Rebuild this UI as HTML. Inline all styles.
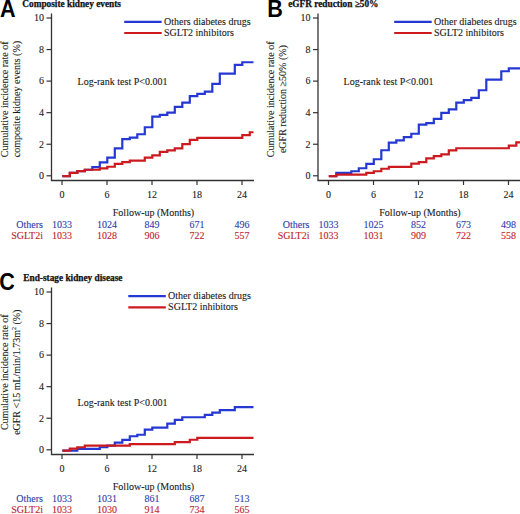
<!DOCTYPE html>
<html><head><meta charset="utf-8"><style>
html,body{margin:0;padding:0;background:#fff;width:520px;height:514px;overflow:hidden}
svg{display:block;font-family:"Liberation Serif",serif}
</style></head><body>
<svg width="520" height="514" viewBox="0 0 520 514">
<text transform="translate(-0.1,17) scale(0.92,1)" font-family="Liberation Sans" font-weight="bold" font-size="23.5" fill="#000">A</text>
<text x="22.3" y="6.6" font-weight="bold" font-size="9.3" fill="#111" stroke="#111" stroke-width="0.25">Composite kidney events</text>
<path d="M51.5 13.5 V180.5 H254" fill="none" stroke="#333333" stroke-width="1.3"/>
<path d="M46.5 175.80 H51.5" stroke="#333333" stroke-width="1.2"/>
<text x="43.90" y="179.10" text-anchor="end" font-size="10" fill="#1a1a1a" stroke="#1a1a1a" stroke-width="0.1" >0</text>
<path d="M46.5 144.24 H51.5" stroke="#333333" stroke-width="1.2"/>
<text x="43.90" y="147.54" text-anchor="end" font-size="10" fill="#1a1a1a" stroke="#1a1a1a" stroke-width="0.1" >2</text>
<path d="M46.5 112.68 H51.5" stroke="#333333" stroke-width="1.2"/>
<text x="43.90" y="115.98" text-anchor="end" font-size="10" fill="#1a1a1a" stroke="#1a1a1a" stroke-width="0.1" >4</text>
<path d="M46.5 81.12 H51.5" stroke="#333333" stroke-width="1.2"/>
<text x="43.90" y="84.42" text-anchor="end" font-size="10" fill="#1a1a1a" stroke="#1a1a1a" stroke-width="0.1" >6</text>
<path d="M46.5 49.56 H51.5" stroke="#333333" stroke-width="1.2"/>
<text x="43.90" y="52.86" text-anchor="end" font-size="10" fill="#1a1a1a" stroke="#1a1a1a" stroke-width="0.1" >8</text>
<path d="M46.5 18.00 H51.5" stroke="#333333" stroke-width="1.2"/>
<text x="43.90" y="21.30" text-anchor="end" font-size="10" fill="#1a1a1a" stroke="#1a1a1a" stroke-width="0.1" >10</text>
<path d="M62 180.5 V185" stroke="#333333" stroke-width="1.2"/>
<text x="62.00" y="197.50" text-anchor="middle" font-size="10" fill="#1a1a1a" stroke="#1a1a1a" stroke-width="0.1" >0</text>
<path d="M107 180.5 V185" stroke="#333333" stroke-width="1.2"/>
<text x="107.00" y="197.50" text-anchor="middle" font-size="10" fill="#1a1a1a" stroke="#1a1a1a" stroke-width="0.1" >6</text>
<path d="M152 180.5 V185" stroke="#333333" stroke-width="1.2"/>
<text x="152.00" y="197.50" text-anchor="middle" font-size="10" fill="#1a1a1a" stroke="#1a1a1a" stroke-width="0.1" >12</text>
<path d="M197 180.5 V185" stroke="#333333" stroke-width="1.2"/>
<text x="197.00" y="197.50" text-anchor="middle" font-size="10" fill="#1a1a1a" stroke="#1a1a1a" stroke-width="0.1" >18</text>
<path d="M242 180.5 V185" stroke="#333333" stroke-width="1.2"/>
<text x="242.00" y="197.50" text-anchor="middle" font-size="10" fill="#1a1a1a" stroke="#1a1a1a" stroke-width="0.1" >24</text>
<text transform="translate(7.8,99.3) rotate(-90)" text-anchor="middle" font-size="10" fill="#1a1a1a" stroke="#1a1a1a" stroke-width="0.1">Cumulative incidence rate of</text>
<text transform="translate(19.6,99.1) rotate(-90)" text-anchor="middle" font-size="10" fill="#1a1a1a" stroke="#1a1a1a" stroke-width="0.1">composite kidney events (%)</text>
<path d="M124.2 21.8 H161.7" stroke="#2638d4" stroke-width="2.2"/>
<path d="M124.2 33.0 H161.7" stroke="#cc1a1e" stroke-width="2.2"/>
<text x="164.00" y="24.70" font-size="10" fill="#1a1a1a" stroke="#1a1a1a" stroke-width="0.1" >Others diabetes drugs</text>
<text x="164.00" y="36.00" font-size="10" fill="#1a1a1a" stroke="#1a1a1a" stroke-width="0.1" >SGLT2 inhibitors</text>
<text x="77.60" y="84.60" font-size="10" fill="#1a1a1a" stroke="#1a1a1a" stroke-width="0.1" >Log-rank test P&lt;0.001</text>
<text x="153.50" y="215.80" text-anchor="middle" font-size="10" fill="#1a1a1a" stroke="#1a1a1a" stroke-width="0.1" >Follow-up (Months)</text>
<text x="43.00" y="227.50" text-anchor="end" font-size="10" fill="#2c3ca8" stroke="#2c3ca8" stroke-width="0.1" >Others</text>
<text x="43.00" y="239.00" text-anchor="end" font-size="10" fill="#c01a2a" stroke="#c01a2a" stroke-width="0.1" >SGLT2i</text>
<text x="62.00" y="227.50" text-anchor="middle" font-size="10" fill="#2c3ca8" stroke="#2c3ca8" stroke-width="0.1" >1033</text>
<text x="62.00" y="239.00" text-anchor="middle" font-size="10" fill="#c01a2a" stroke="#c01a2a" stroke-width="0.1" >1033</text>
<text x="107.00" y="227.50" text-anchor="middle" font-size="10" fill="#2c3ca8" stroke="#2c3ca8" stroke-width="0.1" >1024</text>
<text x="107.00" y="239.00" text-anchor="middle" font-size="10" fill="#c01a2a" stroke="#c01a2a" stroke-width="0.1" >1028</text>
<text x="152.00" y="227.50" text-anchor="middle" font-size="10" fill="#2c3ca8" stroke="#2c3ca8" stroke-width="0.1" >849</text>
<text x="152.00" y="239.00" text-anchor="middle" font-size="10" fill="#c01a2a" stroke="#c01a2a" stroke-width="0.1" >906</text>
<text x="197.00" y="227.50" text-anchor="middle" font-size="10" fill="#2c3ca8" stroke="#2c3ca8" stroke-width="0.1" >671</text>
<text x="197.00" y="239.00" text-anchor="middle" font-size="10" fill="#c01a2a" stroke="#c01a2a" stroke-width="0.1" >722</text>
<text x="242.00" y="227.50" text-anchor="middle" font-size="10" fill="#2c3ca8" stroke="#2c3ca8" stroke-width="0.1" >496</text>
<text x="242.00" y="239.00" text-anchor="middle" font-size="10" fill="#c01a2a" stroke="#c01a2a" stroke-width="0.1" >557</text>
<text transform="translate(267.2,17) scale(0.92,1)" font-family="Liberation Sans" font-weight="bold" font-size="23.5" fill="#000">B</text>
<text x="288.2" y="6.6" font-weight="bold" font-size="9.3" fill="#111" stroke="#111" stroke-width="0.25">eGFR reduction ≥50%</text>
<path d="M318.0 13.5 V180.5 H520.5" fill="none" stroke="#333333" stroke-width="1.3"/>
<path d="M313.0 175.80 H318.0" stroke="#333333" stroke-width="1.2"/>
<text x="310.40" y="179.10" text-anchor="end" font-size="10" fill="#1a1a1a" stroke="#1a1a1a" stroke-width="0.1" >0</text>
<path d="M313.0 144.24 H318.0" stroke="#333333" stroke-width="1.2"/>
<text x="310.40" y="147.54" text-anchor="end" font-size="10" fill="#1a1a1a" stroke="#1a1a1a" stroke-width="0.1" >2</text>
<path d="M313.0 112.68 H318.0" stroke="#333333" stroke-width="1.2"/>
<text x="310.40" y="115.98" text-anchor="end" font-size="10" fill="#1a1a1a" stroke="#1a1a1a" stroke-width="0.1" >4</text>
<path d="M313.0 81.12 H318.0" stroke="#333333" stroke-width="1.2"/>
<text x="310.40" y="84.42" text-anchor="end" font-size="10" fill="#1a1a1a" stroke="#1a1a1a" stroke-width="0.1" >6</text>
<path d="M313.0 49.56 H318.0" stroke="#333333" stroke-width="1.2"/>
<text x="310.40" y="52.86" text-anchor="end" font-size="10" fill="#1a1a1a" stroke="#1a1a1a" stroke-width="0.1" >8</text>
<path d="M313.0 18.00 H318.0" stroke="#333333" stroke-width="1.2"/>
<text x="310.40" y="21.30" text-anchor="end" font-size="10" fill="#1a1a1a" stroke="#1a1a1a" stroke-width="0.1" >10</text>
<path d="M328.5 180.5 V185" stroke="#333333" stroke-width="1.2"/>
<text x="328.50" y="197.50" text-anchor="middle" font-size="10" fill="#1a1a1a" stroke="#1a1a1a" stroke-width="0.1" >0</text>
<path d="M373.5 180.5 V185" stroke="#333333" stroke-width="1.2"/>
<text x="373.50" y="197.50" text-anchor="middle" font-size="10" fill="#1a1a1a" stroke="#1a1a1a" stroke-width="0.1" >6</text>
<path d="M418.5 180.5 V185" stroke="#333333" stroke-width="1.2"/>
<text x="418.50" y="197.50" text-anchor="middle" font-size="10" fill="#1a1a1a" stroke="#1a1a1a" stroke-width="0.1" >12</text>
<path d="M463.5 180.5 V185" stroke="#333333" stroke-width="1.2"/>
<text x="463.50" y="197.50" text-anchor="middle" font-size="10" fill="#1a1a1a" stroke="#1a1a1a" stroke-width="0.1" >18</text>
<path d="M508.5 180.5 V185" stroke="#333333" stroke-width="1.2"/>
<text x="508.50" y="197.50" text-anchor="middle" font-size="10" fill="#1a1a1a" stroke="#1a1a1a" stroke-width="0.1" >24</text>
<text transform="translate(274.3,99.3) rotate(-90)" text-anchor="middle" font-size="10" fill="#1a1a1a" stroke="#1a1a1a" stroke-width="0.1">Cumulative incidence rate of</text>
<text transform="translate(286.1,99.1) rotate(-90)" text-anchor="middle" font-size="10" fill="#1a1a1a" stroke="#1a1a1a" stroke-width="0.1">eGFR reduction ≥50% (%)</text>
<path d="M394.2 21.8 H431.7" stroke="#2638d4" stroke-width="2.2"/>
<path d="M394.2 33.0 H431.7" stroke="#cc1a1e" stroke-width="2.2"/>
<text x="434.00" y="24.70" font-size="10" fill="#1a1a1a" stroke="#1a1a1a" stroke-width="0.1" >Other diabetes drugs</text>
<text x="434.00" y="36.00" font-size="10" fill="#1a1a1a" stroke="#1a1a1a" stroke-width="0.1" >SGLT2 inhibitors</text>
<text x="343.60" y="84.60" font-size="10" fill="#1a1a1a" stroke="#1a1a1a" stroke-width="0.1" >Log-rank test P&lt;0.001</text>
<text x="420.00" y="215.80" text-anchor="middle" font-size="10" fill="#1a1a1a" stroke="#1a1a1a" stroke-width="0.1" >Follow-up (Months)</text>
<text x="309.50" y="227.50" text-anchor="end" font-size="10" fill="#2c3ca8" stroke="#2c3ca8" stroke-width="0.1" >Others</text>
<text x="309.50" y="239.00" text-anchor="end" font-size="10" fill="#c01a2a" stroke="#c01a2a" stroke-width="0.1" >SGLT2i</text>
<text x="328.50" y="227.50" text-anchor="middle" font-size="10" fill="#2c3ca8" stroke="#2c3ca8" stroke-width="0.1" >1033</text>
<text x="328.50" y="239.00" text-anchor="middle" font-size="10" fill="#c01a2a" stroke="#c01a2a" stroke-width="0.1" >1033</text>
<text x="373.50" y="227.50" text-anchor="middle" font-size="10" fill="#2c3ca8" stroke="#2c3ca8" stroke-width="0.1" >1025</text>
<text x="373.50" y="239.00" text-anchor="middle" font-size="10" fill="#c01a2a" stroke="#c01a2a" stroke-width="0.1" >1031</text>
<text x="418.50" y="227.50" text-anchor="middle" font-size="10" fill="#2c3ca8" stroke="#2c3ca8" stroke-width="0.1" >852</text>
<text x="418.50" y="239.00" text-anchor="middle" font-size="10" fill="#c01a2a" stroke="#c01a2a" stroke-width="0.1" >909</text>
<text x="463.50" y="227.50" text-anchor="middle" font-size="10" fill="#2c3ca8" stroke="#2c3ca8" stroke-width="0.1" >673</text>
<text x="463.50" y="239.00" text-anchor="middle" font-size="10" fill="#c01a2a" stroke="#c01a2a" stroke-width="0.1" >722</text>
<text x="508.50" y="227.50" text-anchor="middle" font-size="10" fill="#2c3ca8" stroke="#2c3ca8" stroke-width="0.1" >498</text>
<text x="508.50" y="239.00" text-anchor="middle" font-size="10" fill="#c01a2a" stroke="#c01a2a" stroke-width="0.1" >558</text>
<text transform="translate(-0.7,290.2) scale(0.92,1)" font-family="Liberation Sans" font-weight="bold" font-size="23.5" fill="#000">C</text>
<text x="23.3" y="280.5" font-weight="bold" font-size="9.3" fill="#111" stroke="#111" stroke-width="0.25">End-stage kidney disease</text>
<path d="M51.5 287.5 V454.5 H254" fill="none" stroke="#333333" stroke-width="1.3"/>
<path d="M46.5 449.80 H51.5" stroke="#333333" stroke-width="1.2"/>
<text x="43.90" y="453.10" text-anchor="end" font-size="10" fill="#1a1a1a" stroke="#1a1a1a" stroke-width="0.1" >0</text>
<path d="M46.5 418.24 H51.5" stroke="#333333" stroke-width="1.2"/>
<text x="43.90" y="421.54" text-anchor="end" font-size="10" fill="#1a1a1a" stroke="#1a1a1a" stroke-width="0.1" >2</text>
<path d="M46.5 386.68 H51.5" stroke="#333333" stroke-width="1.2"/>
<text x="43.90" y="389.98" text-anchor="end" font-size="10" fill="#1a1a1a" stroke="#1a1a1a" stroke-width="0.1" >4</text>
<path d="M46.5 355.12 H51.5" stroke="#333333" stroke-width="1.2"/>
<text x="43.90" y="358.42" text-anchor="end" font-size="10" fill="#1a1a1a" stroke="#1a1a1a" stroke-width="0.1" >6</text>
<path d="M46.5 323.56 H51.5" stroke="#333333" stroke-width="1.2"/>
<text x="43.90" y="326.86" text-anchor="end" font-size="10" fill="#1a1a1a" stroke="#1a1a1a" stroke-width="0.1" >8</text>
<path d="M46.5 292.00 H51.5" stroke="#333333" stroke-width="1.2"/>
<text x="43.90" y="295.30" text-anchor="end" font-size="10" fill="#1a1a1a" stroke="#1a1a1a" stroke-width="0.1" >10</text>
<path d="M62 454.5 V459" stroke="#333333" stroke-width="1.2"/>
<text x="62.00" y="471.50" text-anchor="middle" font-size="10" fill="#1a1a1a" stroke="#1a1a1a" stroke-width="0.1" >0</text>
<path d="M107 454.5 V459" stroke="#333333" stroke-width="1.2"/>
<text x="107.00" y="471.50" text-anchor="middle" font-size="10" fill="#1a1a1a" stroke="#1a1a1a" stroke-width="0.1" >6</text>
<path d="M152 454.5 V459" stroke="#333333" stroke-width="1.2"/>
<text x="152.00" y="471.50" text-anchor="middle" font-size="10" fill="#1a1a1a" stroke="#1a1a1a" stroke-width="0.1" >12</text>
<path d="M197 454.5 V459" stroke="#333333" stroke-width="1.2"/>
<text x="197.00" y="471.50" text-anchor="middle" font-size="10" fill="#1a1a1a" stroke="#1a1a1a" stroke-width="0.1" >18</text>
<path d="M242 454.5 V459" stroke="#333333" stroke-width="1.2"/>
<text x="242.00" y="471.50" text-anchor="middle" font-size="10" fill="#1a1a1a" stroke="#1a1a1a" stroke-width="0.1" >24</text>
<text transform="translate(7.8,372.2) rotate(-90)" text-anchor="middle" font-size="10" fill="#1a1a1a" stroke="#1a1a1a" stroke-width="0.1">Cumulative incidence rate of</text>
<text transform="translate(19.6,372.2) rotate(-90)" text-anchor="middle" font-size="10" fill="#1a1a1a" stroke="#1a1a1a" stroke-width="0.1">eGFR &lt;15 mL/min/1.73m<tspan font-size="6" dy="-4">2</tspan><tspan dy="4"> (%)</tspan></text>
<path d="M128.3 296.1 H165.8" stroke="#2638d4" stroke-width="2.2"/>
<path d="M128.3 307.3 H165.8" stroke="#cc1a1e" stroke-width="2.2"/>
<text x="168.10" y="299.00" font-size="10" fill="#1a1a1a" stroke="#1a1a1a" stroke-width="0.1" >Other diabetes drugs</text>
<text x="168.10" y="310.30" font-size="10" fill="#1a1a1a" stroke="#1a1a1a" stroke-width="0.1" >SGLT2 inhibitors</text>
<text x="77.60" y="405.80" font-size="10" fill="#1a1a1a" stroke="#1a1a1a" stroke-width="0.1" >Log-rank test P&lt;0.001</text>
<text x="153.50" y="489.80" text-anchor="middle" font-size="10" fill="#1a1a1a" stroke="#1a1a1a" stroke-width="0.1" >Follow-up (Months)</text>
<text x="43.00" y="501.50" text-anchor="end" font-size="10" fill="#2c3ca8" stroke="#2c3ca8" stroke-width="0.1" >Others</text>
<text x="43.00" y="513.00" text-anchor="end" font-size="10" fill="#c01a2a" stroke="#c01a2a" stroke-width="0.1" >SGLT2i</text>
<text x="62.00" y="501.50" text-anchor="middle" font-size="10" fill="#2c3ca8" stroke="#2c3ca8" stroke-width="0.1" >1033</text>
<text x="62.00" y="513.00" text-anchor="middle" font-size="10" fill="#c01a2a" stroke="#c01a2a" stroke-width="0.1" >1033</text>
<text x="107.00" y="501.50" text-anchor="middle" font-size="10" fill="#2c3ca8" stroke="#2c3ca8" stroke-width="0.1" >1031</text>
<text x="107.00" y="513.00" text-anchor="middle" font-size="10" fill="#c01a2a" stroke="#c01a2a" stroke-width="0.1" >1030</text>
<text x="152.00" y="501.50" text-anchor="middle" font-size="10" fill="#2c3ca8" stroke="#2c3ca8" stroke-width="0.1" >861</text>
<text x="152.00" y="513.00" text-anchor="middle" font-size="10" fill="#c01a2a" stroke="#c01a2a" stroke-width="0.1" >914</text>
<text x="197.00" y="501.50" text-anchor="middle" font-size="10" fill="#2c3ca8" stroke="#2c3ca8" stroke-width="0.1" >687</text>
<text x="197.00" y="513.00" text-anchor="middle" font-size="10" fill="#c01a2a" stroke="#c01a2a" stroke-width="0.1" >734</text>
<text x="242.00" y="501.50" text-anchor="middle" font-size="10" fill="#2c3ca8" stroke="#2c3ca8" stroke-width="0.1" >513</text>
<text x="242.00" y="513.00" text-anchor="middle" font-size="10" fill="#c01a2a" stroke="#c01a2a" stroke-width="0.1" >565</text>
<path d="M62.3 176.15 H69.80 V172.85 H77.30 V171.15 H84.80 V169.75 H92.30 V167.15 H99.80 V162.35 H107.30 V157.55 H114.80 V148.45 H122.30 V139.05 H129.80 V137.55 H137.30 V134.25 H144.80 V127.25 H152.30 V116.55 H159.80 V114.85 H167.30 V112.65 H174.80 V106.85 H182.30 V102.65 H189.80 V96.15 H197.30 V93.95 H204.80 V91.55 H212.30 V83.85 H219.80 V73.65 H234.80 V64.95 H242.30 V62.25 H253.5" fill="none" stroke="#2638d4" stroke-width="2.2"/>
<path d="M62.3 176.15 H69.80 V172.85 H77.30 V171.15 H84.80 V169.75 H99.80 V168.45 H107.30 V166.75 H114.80 V163.95 H122.30 V162.15 H129.80 V160.65 H144.80 V157.65 H152.30 V155.35 H159.80 V151.95 H167.30 V150.35 H174.80 V148.45 H182.30 V144.15 H189.80 V139.95 H197.30 V137.95 H242.30 V135.15 H249.80 V132.25 H253.5" fill="none" stroke="#cc1a1e" stroke-width="2.2"/>
<path d="M328.8 176.15 H336.30 V172.85 H351.30 V171.25 H358.80 V168.25 H366.30 V163.95 H373.80 V159.25 H381.30 V150.25 H388.80 V142.55 H396.30 V140.35 H403.80 V137.15 H411.30 V133.75 H418.80 V124.55 H426.30 V123.05 H433.80 V118.95 H441.30 V112.95 H448.80 V109.35 H456.30 V102.65 H463.80 V100.05 H471.30 V97.95 H478.80 V90.25 H486.30 V79.65 H501.30 V71.25 H508.80 V68.35 H520" fill="none" stroke="#2638d4" stroke-width="2.2"/>
<path d="M328.8 176.15 H336.30 V174.65 H366.30 V172.85 H373.80 V171.25 H381.30 V168.75 H388.80 V166.85 H411.30 V163.65 H418.80 V162.15 H426.30 V158.45 H433.80 V156.15 H441.30 V154.35 H448.80 V150.35 H456.30 V148.25 H508.80 V145.55 H516.30 V142.45 H520" fill="none" stroke="#cc1a1e" stroke-width="2.2"/>
<path d="M62.3 450.55 H77.30 V448.95 H92.30 V448.85 H99.80 V447.25 H107.30 V445.65 H114.80 V442.65 H122.30 V439.85 H129.80 V436.25 H137.30 V434.75 H144.80 V429.65 H152.30 V427.65 H167.30 V423.65 H174.80 V419.95 H182.30 V417.25 H204.80 V414.95 H212.30 V412.65 H219.80 V410.05 H234.80 V407.15 H253.5" fill="none" stroke="#2638d4" stroke-width="2.2"/>
<path d="M62.3 450.55 H69.80 V448.65 H77.30 V447.25 H84.80 V445.65 H129.80 V444.15 H174.80 V442.05 H189.80 V439.75 H197.30 V437.95 H253.5" fill="none" stroke="#cc1a1e" stroke-width="2.2"/>
</svg>
</body></html>
